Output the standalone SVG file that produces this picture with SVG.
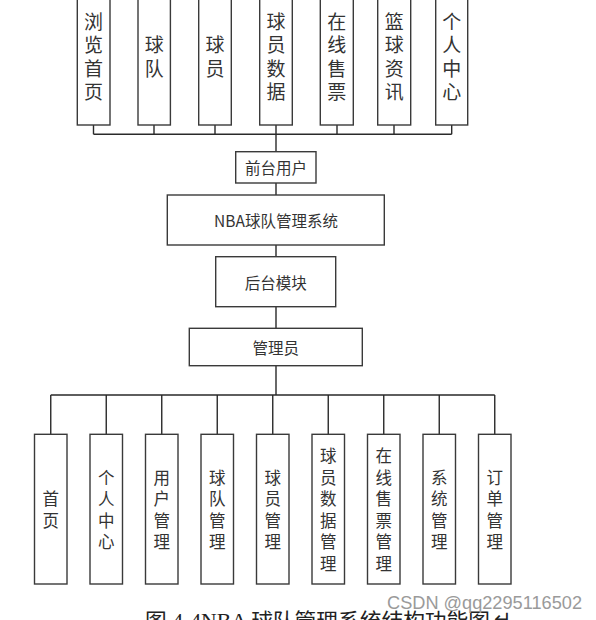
<svg xmlns="http://www.w3.org/2000/svg" width="596" height="620" viewBox="0 0 596 620">
<style>
.box{fill:#fff;stroke:#3a3a3a;stroke-width:1.4}
.ln{stroke:#2a2a2a;stroke-width:1.4;fill:none}
.t{font-family:"Noto Sans CJK SC","Liberation Sans",sans-serif;fill:#333;text-anchor:middle;dominant-baseline:central}
.tt{font-size:19px}
.tb{font-size:16.5px}
.tc{font-size:15.5px}
.cap{font-family:"Liberation Serif","Noto Sans CJK SC",serif;font-size:21px;fill:#222}
.wm{font-family:"Liberation Sans",Arial,sans-serif;font-size:18px;fill:#9a9a9a}
</style>
<rect width="596" height="620" fill="#fff"/>
<g id="connectors">
<path class="ln" d="M93.5 125V134.3M154 125V134.3M215 125V134.3M276 125V134.3M337 125V134.3M394 125V134.3M451.7 125V134.3M93.5 134.3H451.7"/>
<path class="ln" stroke-width="2" d="M276 134.3V151.7"/>
<path class="ln" d="M276 183V195M276 245V256.7M276 306.7V328.3M276 365.7V395"/>
<path class="ln" d="M50.75 395H494.75M50.75 395V434.3M106.25 395V434.3M161.75 395V434.3M217.25 395V434.3M272.75 395V434.3M328.25 395V434.3M383.75 395V434.3M439.25 395V434.3M494.75 395V434.3"/>
</g>
<g id="top-nodes">
<g id="n-liulan"><rect class="box" x="77.3" y="-5" width="32.7" height="130"/><text class="t tt"><tspan x="93.6" y="20">浏</tspan><tspan x="93.6" y="43.3">览</tspan><tspan x="93.6" y="66.7">首</tspan><tspan x="93.6" y="90">页</tspan></text></g>
<g id="n-qiudui"><rect class="box" x="138" y="-5" width="32.4" height="130"/><text class="t tt"><tspan x="154.2" y="43.3">球</tspan><tspan x="154.2" y="66.7">队</tspan></text></g>
<g id="n-qiuyuan"><rect class="box" x="198.7" y="-5" width="32.6" height="130"/><text class="t tt"><tspan x="215" y="43.3">球</tspan><tspan x="215" y="66.7">员</tspan></text></g>
<g id="n-shuju"><rect class="box" x="259.7" y="-5" width="32.6" height="130"/><text class="t tt"><tspan x="276" y="20">球</tspan><tspan x="276" y="43.3">员</tspan><tspan x="276" y="66.7">数</tspan><tspan x="276" y="90">据</tspan></text></g>
<g id="n-shoupiao"><rect class="box" x="320.3" y="-5" width="33" height="130"/><text class="t tt"><tspan x="336.8" y="20">在</tspan><tspan x="336.8" y="43.3">线</tspan><tspan x="336.8" y="66.7">售</tspan><tspan x="336.8" y="90">票</tspan></text></g>
<g id="n-zixun"><rect class="box" x="377.7" y="-5" width="33" height="130"/><text class="t tt"><tspan x="394.2" y="20">篮</tspan><tspan x="394.2" y="43.3">球</tspan><tspan x="394.2" y="66.7">资</tspan><tspan x="394.2" y="90">讯</tspan></text></g>
<g id="n-geren"><rect class="box" x="435.7" y="-5" width="32" height="130"/><text class="t tt"><tspan x="451.7" y="20">个</tspan><tspan x="451.7" y="43.3">人</tspan><tspan x="451.7" y="66.7">中</tspan><tspan x="451.7" y="90">心</tspan></text></g>
</g>
<g id="center-nodes">
<g id="n-qiantai"><rect class="box" x="235.7" y="151.7" width="80.3" height="31.3"/><text class="t tc" x="276" y="167.3">前台用户</text></g>
<g id="n-system"><rect class="box" x="167.3" y="195" width="217" height="50"/><text class="t tc" x="276" y="220">NBA球队管理系统</text></g>
<g id="n-houtai"><rect class="box" x="215.7" y="256.7" width="120" height="50"/><text class="t tc" x="275.7" y="281.7">后台模块</text></g>
<g id="n-admin"><rect class="box" x="189.3" y="328.3" width="173" height="37.4"/><text class="t tc" x="275.8" y="347">管理员</text></g>
</g>
<g id="bottom-nodes">
<g id="b-shouye"><rect class="box" x="34.5" y="434.3" width="32.5" height="149.7"/><text class="t tb"><tspan x="50.75" y="498.25">首</tspan><tspan x="50.75" y="519.75">页</tspan></text></g>
<g id="b-geren"><rect class="box" x="90" y="434.3" width="32.5" height="149.7"/><text class="t tb"><tspan x="106.25" y="476.75">个</tspan><tspan x="106.25" y="498.25">人</tspan><tspan x="106.25" y="519.75">中</tspan><tspan x="106.25" y="541.25">心</tspan></text></g>
<g id="b-yonghu"><rect class="box" x="145.5" y="434.3" width="32.5" height="149.7"/><text class="t tb"><tspan x="161.75" y="476.75">用</tspan><tspan x="161.75" y="498.25">户</tspan><tspan x="161.75" y="519.75">管</tspan><tspan x="161.75" y="541.25">理</tspan></text></g>
<g id="b-qiudui"><rect class="box" x="201" y="434.3" width="32.5" height="149.7"/><text class="t tb"><tspan x="217.25" y="476.75">球</tspan><tspan x="217.25" y="498.25">队</tspan><tspan x="217.25" y="519.75">管</tspan><tspan x="217.25" y="541.25">理</tspan></text></g>
<g id="b-qiuyuan"><rect class="box" x="256.5" y="434.3" width="32.5" height="149.7"/><text class="t tb"><tspan x="272.75" y="476.75">球</tspan><tspan x="272.75" y="498.25">员</tspan><tspan x="272.75" y="519.75">管</tspan><tspan x="272.75" y="541.25">理</tspan></text></g>
<g id="b-shuju"><rect class="box" x="312" y="434.3" width="32.5" height="149.7"/><text class="t tb"><tspan x="328.25" y="455.25">球</tspan><tspan x="328.25" y="476.75">员</tspan><tspan x="328.25" y="498.25">数</tspan><tspan x="328.25" y="519.75">据</tspan><tspan x="328.25" y="541.25">管</tspan><tspan x="328.25" y="562.75">理</tspan></text></g>
<g id="b-shoupiao"><rect class="box" x="367.5" y="434.3" width="32.5" height="149.7"/><text class="t tb"><tspan x="383.75" y="455.25">在</tspan><tspan x="383.75" y="476.75">线</tspan><tspan x="383.75" y="498.25">售</tspan><tspan x="383.75" y="519.75">票</tspan><tspan x="383.75" y="541.25">管</tspan><tspan x="383.75" y="562.75">理</tspan></text></g>
<g id="b-xitong"><rect class="box" x="423" y="434.3" width="32.5" height="149.7"/><text class="t tb"><tspan x="439.25" y="476.75">系</tspan><tspan x="439.25" y="498.25">统</tspan><tspan x="439.25" y="519.75">管</tspan><tspan x="439.25" y="541.25">理</tspan></text></g>
<g id="b-dingdan"><rect class="box" x="478.5" y="434.3" width="32.5" height="149.7"/><text class="t tb"><tspan x="494.75" y="476.75">订</tspan><tspan x="494.75" y="498.25">单</tspan><tspan x="494.75" y="519.75">管</tspan><tspan x="494.75" y="541.25">理</tspan></text></g>
</g>
<text class="cap" x="145" y="628" textLength="345" lengthAdjust="spacingAndGlyphs">图 4-4NBA 球队管理系统结构功能图</text>
<text class="cap" x="494" y="626" font-size="13" fill="#888">↵</text>
<text class="wm" x="387" y="609" textLength="195" lengthAdjust="spacingAndGlyphs">CSDN @qq2295116502</text>
</svg>
